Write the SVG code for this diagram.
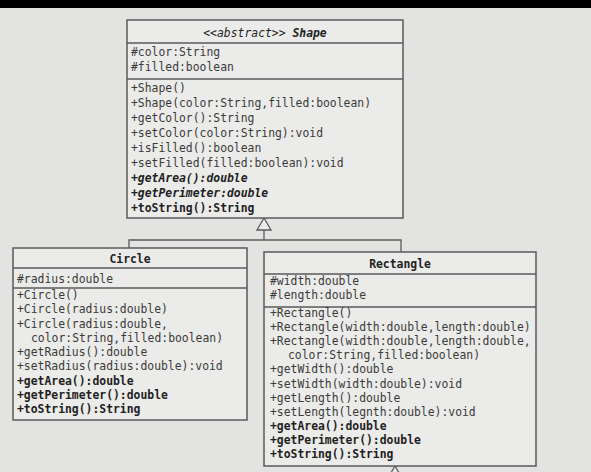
<svg xmlns="http://www.w3.org/2000/svg" width="591" height="472" viewBox="0 0 591 472">
<style>
.bg{fill:#e3e3e1}
.box{fill:#ebebe9;stroke:#5a5a5a;stroke-width:1.5}
.sep{stroke:#5a5a5a;stroke-width:1.5;fill:none}
.conn{stroke:#5a5a5a;stroke-width:1.3;fill:none}
.tri{fill:#ebebe9;stroke:#5a5a5a;stroke-width:1.3}
text{font-family:"DejaVu Sans Mono","Liberation Mono",monospace;font-size:11.4px;fill:#3a3a3a}
.b{font-weight:bold;fill:#1e1e1e}
.i{font-style:italic}
.t{font-weight:bold;fill:#1e1e1e;text-anchor:middle}
</style>
<rect class="bg" x="0" y="0" width="591" height="472"/>
<rect x="0" y="0" width="591" height="8" fill="#000"/>

<g id="connectors">
<polyline class="conn" points="264,230 264,240"/>
<polyline class="conn" points="129,248 129,240 401,240 401,252"/>
<polygon class="tri" points="264,218 257,230 271,230"/>
<polygon class="tri" points="395,466 388,478 402,478"/>
</g>

<g id="Shape">
<rect class="box" x="127" y="20" width="276" height="198"/>
<line class="sep" x1="127" y1="43" x2="403" y2="43"/>
<line class="sep" x1="127" y1="79" x2="403" y2="79"/>
<text x="265" y="37" text-anchor="middle"><tspan class="i" fill="#1e1e1e">&lt;&lt;abstract&gt;&gt; </tspan><tspan class="i" font-weight="bold" fill="#1e1e1e">Shape</tspan></text>
<text x="131" y="56">#color:String</text>
<text x="131" y="71">#filled:boolean</text>
<text x="131" y="92">+Shape()</text>
<text x="131" y="107">+Shape(color:String,filled:boolean)</text>
<text x="131" y="122">+getColor():String</text>
<text x="131" y="137">+setColor(color:String):void</text>
<text x="131" y="152">+isFilled():boolean</text>
<text x="131" y="167">+setFilled(filled:boolean):void</text>
<text x="131" y="182" class="b i">+getArea():double</text>
<text x="131" y="197" class="b i">+getPerimeter:double</text>
<text x="131" y="212" class="b">+toString():String</text>
</g>

<g id="Circle">
<rect class="box" x="13" y="248" width="234" height="172"/>
<line class="sep" x1="13" y1="268" x2="247" y2="268"/>
<line class="sep" x1="13" y1="288" x2="247" y2="288"/>
<text x="130" y="263" class="t">Circle</text>
<text x="17" y="283">#radius:double</text>
<text x="17" y="299">+Circle()</text>
<text x="17" y="313">+Circle(radius:double)</text>
<text x="17" y="327.5">+Circle(radius:double,</text>
<text x="31" y="341.5">color:String,filled:boolean)</text>
<text x="17" y="356">+getRadius():double</text>
<text x="17" y="370">+setRadius(radius:double):void</text>
<text x="17" y="384.5" class="b">+getArea():double</text>
<text x="17" y="398.5" class="b">+getPerimeter():double</text>
<text x="17" y="413" class="b">+toString():String</text>
</g>

<g id="Rectangle">
<rect class="box" x="264" y="252" width="272" height="214"/>
<line class="sep" x1="264" y1="274" x2="536" y2="274"/>
<line class="sep" x1="264" y1="307" x2="536" y2="307"/>
<text x="400" y="268" class="t">Rectangle</text>
<text x="270" y="285">#width:double</text>
<text x="270" y="299">#length:double</text>
<text x="270" y="317">+Rectangle()</text>
<text x="270" y="331.1">+Rectangle(width:double,length:double)</text>
<text x="270" y="345.2">+Rectangle(width:double,length:double,</text>
<text x="288" y="359.3">color:String,filled:boolean)</text>
<text x="270" y="373.4">+getWidth():double</text>
<text x="270" y="387.5">+setWidth(width:double):void</text>
<text x="270" y="401.6">+getLength():double</text>
<text x="270" y="415.7">+setLength(legnth:double):void</text>
<text x="270" y="429.8" class="b">+getArea():double</text>
<text x="270" y="443.9" class="b">+getPerimeter():double</text>
<text x="270" y="458" class="b">+toString():String</text>
</g>
</svg>
